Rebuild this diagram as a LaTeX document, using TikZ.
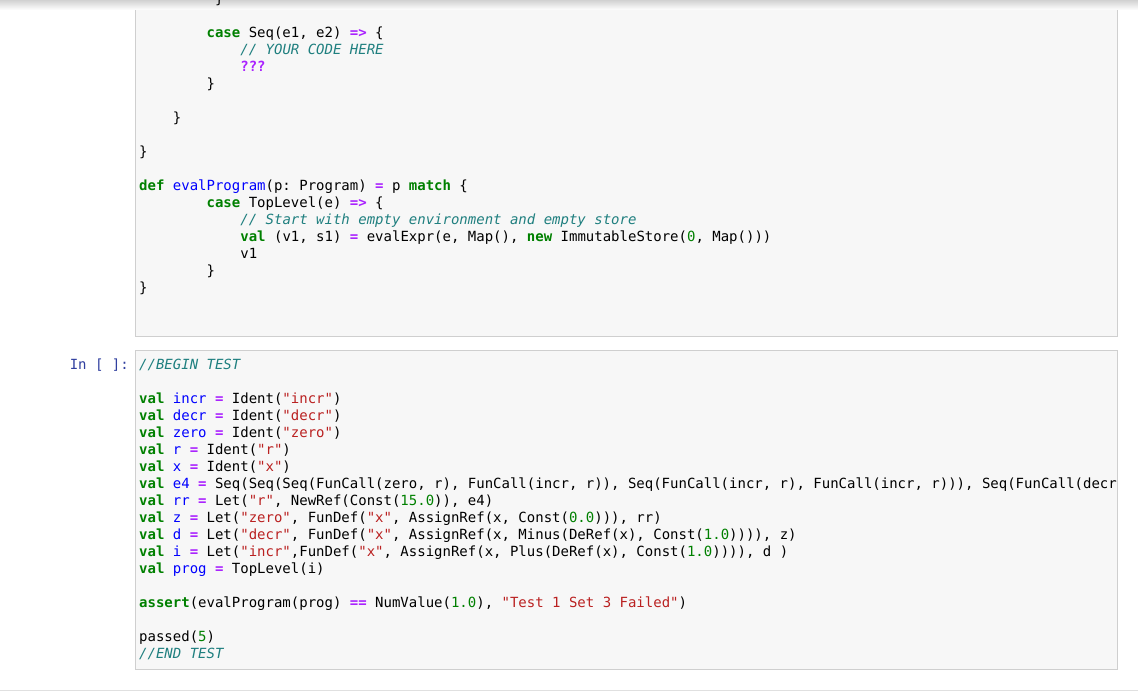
\documentclass[tikz,border=0pt]{standalone}
\usepackage{fontspec}
\setmonofont{DejaVu Sans Mono}
\definecolor{kwc}{HTML}{008000}
\definecolor{opc}{HTML}{AA22FF}
\definecolor{fnc}{HTML}{0000FF}
\definecolor{stc}{HTML}{BA2121}
\definecolor{cmc}{HTML}{1F7F7F}
\definecolor{cellbg}{HTML}{F7F7F7}
\definecolor{cellbd}{HTML}{CFCFCF}
\definecolor{promptc}{HTML}{303F9F}
\newcommand{\kw}[1]{\textcolor{kwc}{\bfseries #1}}
\newcommand{\op}[1]{\textcolor{opc}{\bfseries #1}}
\newcommand{\fn}[1]{\textcolor{fnc}{#1}}
\newcommand{\st}[1]{\textcolor{stc}{#1}}
\newcommand{\nm}[1]{\textcolor{kwc}{#1}}
\newcommand{\cm}[1]{\textcolor{cmc}{\itshape #1}}
\begin{document}
\begin{tikzpicture}[x=1pt,y=-1pt,
  code/.style={anchor=base west,inner sep=0,font=\ttfamily\fontsize{14}{17}\selectfont},
  cell/.style={fill=cellbg,draw=cellbd,line width=1pt}]
\useasboundingbox (0,0) rectangle (1138,692);
\fill[white] (0,0) rectangle (1138,692);
\draw[cell] (135,-10) rectangle (1117,337);
\draw[cell] (135,351) rectangle (1117,669);
\shade[top color=black!18,bottom color=white,draw=none] (0,0) rectangle (1138,10);
\draw[black!12] (0,690) -- (1138,690);
\begin{scope}
\clip (136,0) rectangle (1116,336);
\node[code] (l0) at ({139+8.43*9},{-1+4.5}) {\}};
\node[code] (l1) at ({139+8.43*8},{33+4.5}) {\kw{case} Seq(e1, e2) \op{=>} \{};
\node[code] (l2) at ({139+8.43*12},{50+4.5}) {\cm{// YOUR CODE HERE}};
\node[code] (l3) at ({139+8.43*12},{67+4.5}) {\op{???}};
\node[code] (l4) at ({139+8.43*8},{84+4.5}) {\}};
\node[code] (l5) at ({139+8.43*4},{118+4.5}) {\}};
\node[code] (l6) at ({139},{152+4.5}) {\}};
\node[code] (l7) at ({139},{186+4.5}) {\kw{def} \fn{evalProgram}(p: Program) \op{=} p \kw{match} \{};
\node[code] (l8) at ({139+8.43*8},{203+4.5}) {\kw{case} TopLevel(e) \op{=>} \{};
\node[code] (l9) at ({139+8.43*12},{220+4.5}) {\cm{// Start with empty environment and empty store}};
\node[code] (l10) at ({139+8.43*12},{237+4.5}) {\kw{val} (v1, s1) \op{=} evalExpr(e, Map(), \kw{new} ImmutableStore(\nm{0}, Map()))};
\node[code] (l11) at ({139+8.43*12},{254+4.5}) {v1};
\node[code] (l12) at ({139+8.43*8},{271+4.5}) {\}};
\node[code] (l13) at ({139},{288+4.5}) {\}};
\end{scope}
\node[code,text=promptc,anchor=base east] (prompt) at (129,{365+4.5}) {In [ ]:};
\begin{scope}
\clip (136,352) rectangle (1116,668);
\node[code] (m1) at (139,{365+4.5}) {\cm{//BEGIN TEST}};
\node[code] (m2) at (139,{399+4.5}) {\kw{val} \fn{incr} \op{=} Ident(\st{"incr"})};
\node[code] (m3) at (139,{416+4.5}) {\kw{val} \fn{decr} \op{=} Ident(\st{"decr"})};
\node[code] (m4) at (139,{433+4.5}) {\kw{val} \fn{zero} \op{=} Ident(\st{"zero"})};
\node[code] (m5) at (139,{450+4.5}) {\kw{val} \fn{r} \op{=} Ident(\st{"r"})};
\node[code] (m6) at (139,{467+4.5}) {\kw{val} \fn{x} \op{=} Ident(\st{"x"})};
\node[code] (m7) at (139,{484+4.5}) {\kw{val} \fn{e4} \op{=} Seq(Seq(Seq(FunCall(zero, r), FunCall(incr, r)), Seq(FunCall(incr, r), FunCall(incr, r))), Seq(FunCall(decr};
\node[code] (m8) at (139,{501+4.5}) {\kw{val} \fn{rr} \op{=} Let(\st{"r"}, NewRef(Const(\nm{15.0})), e4)};
\node[code] (m9) at (139,{518+4.5}) {\kw{val} \fn{z} \op{=} Let(\st{"zero"}, FunDef(\st{"x"}, AssignRef(x, Const(\nm{0.0}))), rr)};
\node[code] (m10) at (139,{535+4.5}) {\kw{val} \fn{d} \op{=} Let(\st{"decr"}, FunDef(\st{"x"}, AssignRef(x, Minus(DeRef(x), Const(\nm{1.0})))), z)};
\node[code] (m11) at (139,{552+4.5}) {\kw{val} \fn{i} \op{=} Let(\st{"incr"},FunDef(\st{"x"}, AssignRef(x, Plus(DeRef(x), Const(\nm{1.0})))), d )};
\node[code] (m12) at (139,{569+4.5}) {\kw{val} \fn{prog} \op{=} TopLevel(i)};
\node[code] (m13) at (139,{603+4.5}) {\kw{assert}(evalProgram(prog) \op{==} NumValue(\nm{1.0}), \st{"Test 1 Set 3 Failed"})};
\node[code] (m14) at (139,{637+4.5}) {passed(\nm{5})};
\node[code] (m15) at (139,{654+4.5}) {\cm{//END TEST}};
\end{scope}
\end{tikzpicture}
\end{document}
